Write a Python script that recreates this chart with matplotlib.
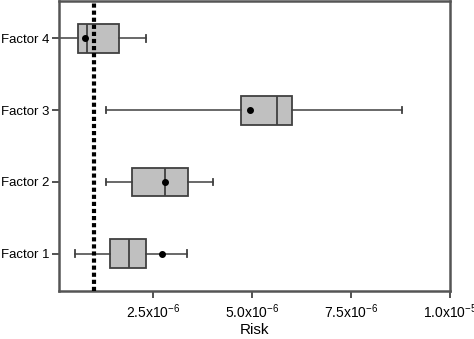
import numpy as np
import matplotlib.pyplot as plt

plt.rcParams['font.family'] = ['Liberation Sans', 'DejaVu Sans']
plt.rcParams['mathtext.default'] = 'regular'

# box statistics (risk values)
factors = ['Factor 1', 'Factor 2', 'Factor 3', 'Factor 4']
whislo = [0.52e-6, 1.30e-6, 1.30e-6, 0.12e-6]
q1 = [1.41e-6, 1.97e-6, 4.73e-6, 0.61e-6]
med = [1.89e-6, 2.79e-6, 5.62e-6, 0.82e-6]
q3 = [2.31e-6, 3.39e-6, 6.00e-6, 1.63e-6]
whishi = [3.35e-6, 4.01e-6, 8.79e-6, 2.31e-6]
means = [2.72e-6, 2.79e-6, 4.94e-6, 0.78e-6]
threshold = 1.0e-6

xticks = [2.5e-6, 5.0e-6, 7.5e-6, 1.0e-5]
xticklabels = ['2.5x10$^{-6}$', '5.0x10$^{-6}$', '7.5x10$^{-6}$', '1.0x10$^{-5}$']

stats = []
for i in range(len(factors)):
    stats.append(dict(label=factors[i], whislo=whislo[i], q1=q1[i], med=med[i],
                      q3=q3[i], whishi=whishi[i], mean=means[i], fliers=[]))

fig = plt.figure(figsize=(4.74, 3.39), dpi=100)
ax = fig.add_axes([0.1245, 0.1416, 0.8245, 0.855])

edge = '#404040'
ax.bxp(stats, positions=[1, 2, 3, 4], vert=False, widths=0.4, capwidths=0.09,
       patch_artist=True, showmeans=True, showfliers=False,
       boxprops=dict(facecolor='#c0c0c0', edgecolor=edge, linewidth=1.3),
       medianprops=dict(color=edge, linewidth=1.3),
       whiskerprops=dict(color=edge, linewidth=1.1),
       capprops=dict(color=edge, linewidth=1.3),
       meanprops=dict(marker='o', markerfacecolor='black', markeredgecolor='black',
                      markersize=4))

ax.axvline(threshold, color='black', linewidth=3, linestyle=(0, (1, 0.7)), zorder=5)

ax.set_xlim(0.12e-6, 1.0e-5)
ax.set_ylim(0.48, 4.52)
ax.set_xticks(xticks)
ax.set_xticklabels(xticklabels, fontsize=10)
ax.set_yticks([1, 2, 3, 4])
ax.set_yticklabels(factors, fontsize=9.5)
ax.set_xlabel('Risk', fontsize=11, labelpad=1)

for s in ax.spines.values():
    s.set_color('#555555')
    s.set_linewidth(1.8)
ax.tick_params(axis='both', color='#333333', length=5, width=1.2)
ax.tick_params(axis='y', pad=2)

fig.savefig('out.png', dpi=100)
